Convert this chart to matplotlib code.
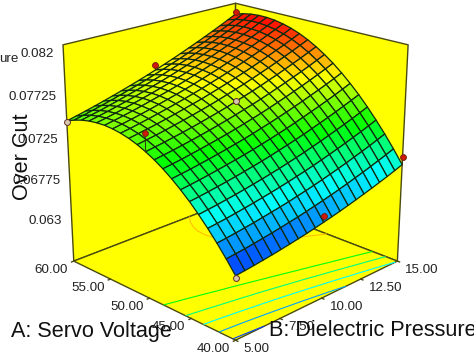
import numpy as np
import matplotlib
matplotlib.use('Agg')
import matplotlib.pyplot as plt
from matplotlib.colors import LinearSegmentedColormap
from mpl_toolkits.mplot3d import proj3d
from mpl_toolkits.mplot3d.art3d import Poly3DCollection

plt.rcParams['font.family'] = ['Liberation Sans', 'DejaVu Sans']

voltage_ticks = [60.0, 55.0, 50.0, 45.0, 40.0]
pressure_ticks = [5.0, 7.5, 10.0, 12.5, 15.0]
z_ticks = [0.082, 0.07725, 0.0725, 0.06775, 0.063]
z_labels = ['0.082', '0.07725', '0.0725', '0.06775', '0.063']
z_floor = 0.0571

# over cut x 1e5: rows voltage 40..60, columns pressure 5..15
voltage = [40 + i for i in range(21)]
pressure = [5 + 0.5 * j for j in range(21)]
over_cut = [
    [6410, 6421, 6433, 6447, 6462, 6478, 6495, 6513, 6532, 6553, 6575, 6598, 6622, 6648, 6675, 6703, 6732, 6762, 6793, 6826, 6860],
    [6545, 6557, 6569, 6584, 6600, 6616, 6634, 6653, 6672, 6694, 6717, 6740, 6765, 6791, 6819, 6848, 6877, 6908, 6940, 6973, 7008],
    [6671, 6683, 6697, 6712, 6728, 6746, 6764, 6783, 6803, 6826, 6849, 6873, 6899, 6926, 6954, 6983, 7014, 7045, 7077, 7112, 7147],
    [6787, 6800, 6814, 6830, 6847, 6865, 6884, 6904, 6925, 6948, 6972, 6996, 7022, 7050, 7079, 7109, 7140, 7172, 7205, 7240, 7276],
    [6894, 6908, 6922, 6939, 6956, 6975, 6995, 7015, 7037, 7060, 7085, 7111, 7137, 7166, 7195, 7226, 7258, 7290, 7324, 7359, 7396],
    [6993, 7007, 7023, 7040, 7058, 7077, 7098, 7119, 7141, 7165, 7191, 7217, 7244, 7273, 7304, 7335, 7367, 7400, 7435, 7471, 7508],
    [7081, 7096, 7112, 7130, 7149, 7169, 7189, 7211, 7234, 7259, 7285, 7312, 7340, 7370, 7401, 7433, 7465, 7499, 7534, 7571, 7609],
    [7161, 7177, 7193, 7212, 7231, 7252, 7273, 7296, 7319, 7345, 7372, 7399, 7428, 7458, 7490, 7522, 7556, 7590, 7626, 7663, 7702],
    [7232, 7248, 7265, 7285, 7305, 7326, 7348, 7371, 7396, 7422, 7449, 7477, 7506, 7538, 7570, 7603, 7637, 7672, 7709, 7747, 7786],
    [7293, 7310, 7328, 7348, 7368, 7390, 7413, 7437, 7462, 7489, 7517, 7545, 7575, 7607, 7640, 7674, 7709, 7744, 7781, 7820, 7860],
    [7345, 7363, 7381, 7402, 7423, 7445, 7469, 7494, 7519, 7546, 7575, 7605, 7635, 7667, 7701, 7735, 7771, 7808, 7845, 7885, 7925],
    [7388, 7406, 7425, 7446, 7469, 7492, 7516, 7541, 7567, 7595, 7625, 7655, 7686, 7719, 7753, 7788, 7824, 7862, 7900, 7940, 7981],
    [7422, 7441, 7461, 7482, 7505, 7529, 7554, 7580, 7606, 7635, 7665, 7696, 7728, 7761, 7796, 7832, 7869, 7907, 7945, 7986, 8028],
    [7446, 7465, 7486, 7508, 7532, 7556, 7582, 7608, 7636, 7665, 7696, 7727, 7759, 7794, 7829, 7866, 7903, 7942, 7981, 8023, 8065],
    [7461, 7481, 7502, 7525, 7549, 7575, 7601, 7628, 7656, 7686, 7717, 7749, 7782, 7817, 7853, 7891, 7929, 7968, 8008, 8050, 8093],
    [7468, 7488, 7510, 7533, 7558, 7584, 7611, 7638, 7667, 7698, 7730, 7762, 7796, 7832, 7869, 7906, 7945, 7985, 8026, 8068, 8112],
    [7464, 7485, 7508, 7532, 7558, 7584, 7611, 7640, 7669, 7701, 7733, 7766, 7801, 7837, 7875, 7913, 7952, 7993, 8034, 8078, 8122],
    [7452, 7474, 7497, 7522, 7548, 7575, 7603, 7632, 7662, 7694, 7728, 7762, 7797, 7834, 7872, 7911, 7951, 7992, 8034, 8078, 8123],
    [7431, 7454, 7477, 7503, 7530, 7558, 7586, 7616, 7647, 7679, 7713, 7748, 7783, 7821, 7860, 7900, 7940, 7982, 8025, 8069, 8115],
    [7400, 7423, 7448, 7474, 7501, 7530, 7559, 7589, 7621, 7654, 7689, 7724, 7760, 7799, 7838, 7878, 7920, 7962, 8005, 8051, 8097],
    [7360, 7384, 7409, 7436, 7464, 7493, 7523, 7554, 7586, 7620, 7655, 7691, 7728, 7767, 7807, 7848, 7890, 7933, 7977, 8023, 8070],
]

# design points
red_volt = [60, 60, 50, 40, 40]
red_pres = [15, 10, 5, 15, 10]
red_z = [0.0809, 0.0771, 0.0754, 0.0695, 0.0665]
grey_volt = [60, 40, 50]
grey_pres = [5, 5, 10]
grey_z = [0.0735, 0.0639, 0.0758]

contour_levels = [0.0645, 0.0665, 0.0685, 0.0705, 0.0725, 0.0780, 0.0805]

colors = LinearSegmentedColormap.from_list('de', ['#0030ff', '#00ffff', '#00ff00', '#ffff00', '#ff0000'])
edge = '#4a4a10'

# axes box is bigger than the figure so the walls do not get clipped
side, cx, cy = 560, 228, 164
fig = plt.figure(figsize=(4.74, 3.61), dpi=100)
ax = fig.add_axes([(cx - side / 2) / 474, (361 - cy - side / 2) / 361, side / 474, side / 361], projection='3d')
ax.computed_zorder = False
ax.set_axis_off()
ax.set_proj_type('persp', focal_length=0.42)
ax.view_init(elev=20.7, azim=-45)

X, Y = np.meshgrid(voltage, pressure)
Z = np.array(over_cut).T * 1e-5

v0, v1 = 40, 60
p0, p1 = 5, 15
z1 = z_ticks[0]
walls = [
    [(v1, p0, z_floor), (v1, p1, z_floor), (v1, p1, z1), (v1, p0, z1)],
    [(v1, p1, z_floor), (v0, p1, z_floor), (v0, p1, z1), (v1, p1, z1)],
    [(v0, p0, z_floor), (v1, p0, z_floor), (v1, p1, z_floor), (v0, p1, z_floor)],
]
ax.add_collection3d(Poly3DCollection(walls, facecolors='#ffff00', edgecolors=edge, linewidths=1.0, zorder=0))

ax.contour(X, Y, Z, levels=contour_levels, zdir='z', offset=z_floor, cmap=colors,
           vmin=Z.min(), vmax=Z.max(), linewidths=0.8, zorder=1)

ax.plot_surface(X, Y, Z, rstride=1, cstride=1, cmap=colors, vmin=Z.min(), vmax=Z.max(), shade=False,
                edgecolor='#102a10', linewidth=0.9, antialiased=True, zorder=2)

for v, p, z in zip(red_volt, red_pres, red_z):
    ax.plot([v, v], [p, p], [Z[pressure.index(p), voltage.index(v)], z], color='#303010', lw=0.7, zorder=3)
ax.scatter(red_volt, red_pres, red_z, s=18, c='#d01808', edgecolors='#602010', linewidths=0.6, depthshade=False, zorder=4)
ax.scatter(grey_volt, grey_pres, grey_z, s=18, c='#d8c8b0', edgecolors='#603020', linewidths=0.7, depthshade=False, zorder=4)

ax.set_xlim(v1, v0)
ax.set_ylim(p0, p1)
ax.set_zlim(z_floor, z1)
ax.set_box_aspect((1, 1, 0.978), zoom=0.704)


def label_at(x, y, z, text, dx, dy, ha):
    px, py, _ = proj3d.proj_transform(x, y, z, ax.get_proj())
    ax.annotate(text, xy=(px, py), xytext=(dx, dy), textcoords='offset pixels',
                ha=ha, va='center', fontsize=9.6, color='#222222')


for v in voltage_ticks:
    ax.plot([v, v], [p0, p0 - 0.12], [z_floor, z_floor], color=edge, lw=1, zorder=1)
    label_at(v, p0, z_floor, f'{v:.2f}', -6, -9, 'right')
for p in pressure_ticks:
    ax.plot([v0, v0 - 0.24], [p, p], [z_floor, z_floor], color=edge, lw=1, zorder=1)
    label_at(v0, p, z_floor, f'{p:.2f}', 8, -9, 'left')
for z, text in zip(z_ticks, z_labels):
    label_at(v1, p0, z, text, -9, -9, 'right')

fig.text(11 / 474, 1 - 331 / 361, 'A: Servo Voltage', fontsize=15.6, va='center', color='#111111')
fig.text(269 / 474, 1 - 331 / 361, 'B: Dielectric Pressure', fontsize=15.6, va='center', color='#111111')
fig.text(22 / 474, 1 - 157 / 361, 'Over Cut', fontsize=15.6, rotation=90, ha='center', va='center', color='#111111')
fig.text(-1 / 474, 1 - 59 / 361, 'ure', fontsize=9.6, va='center', color='#222222')

plt.savefig('out.png', dpi=100)
